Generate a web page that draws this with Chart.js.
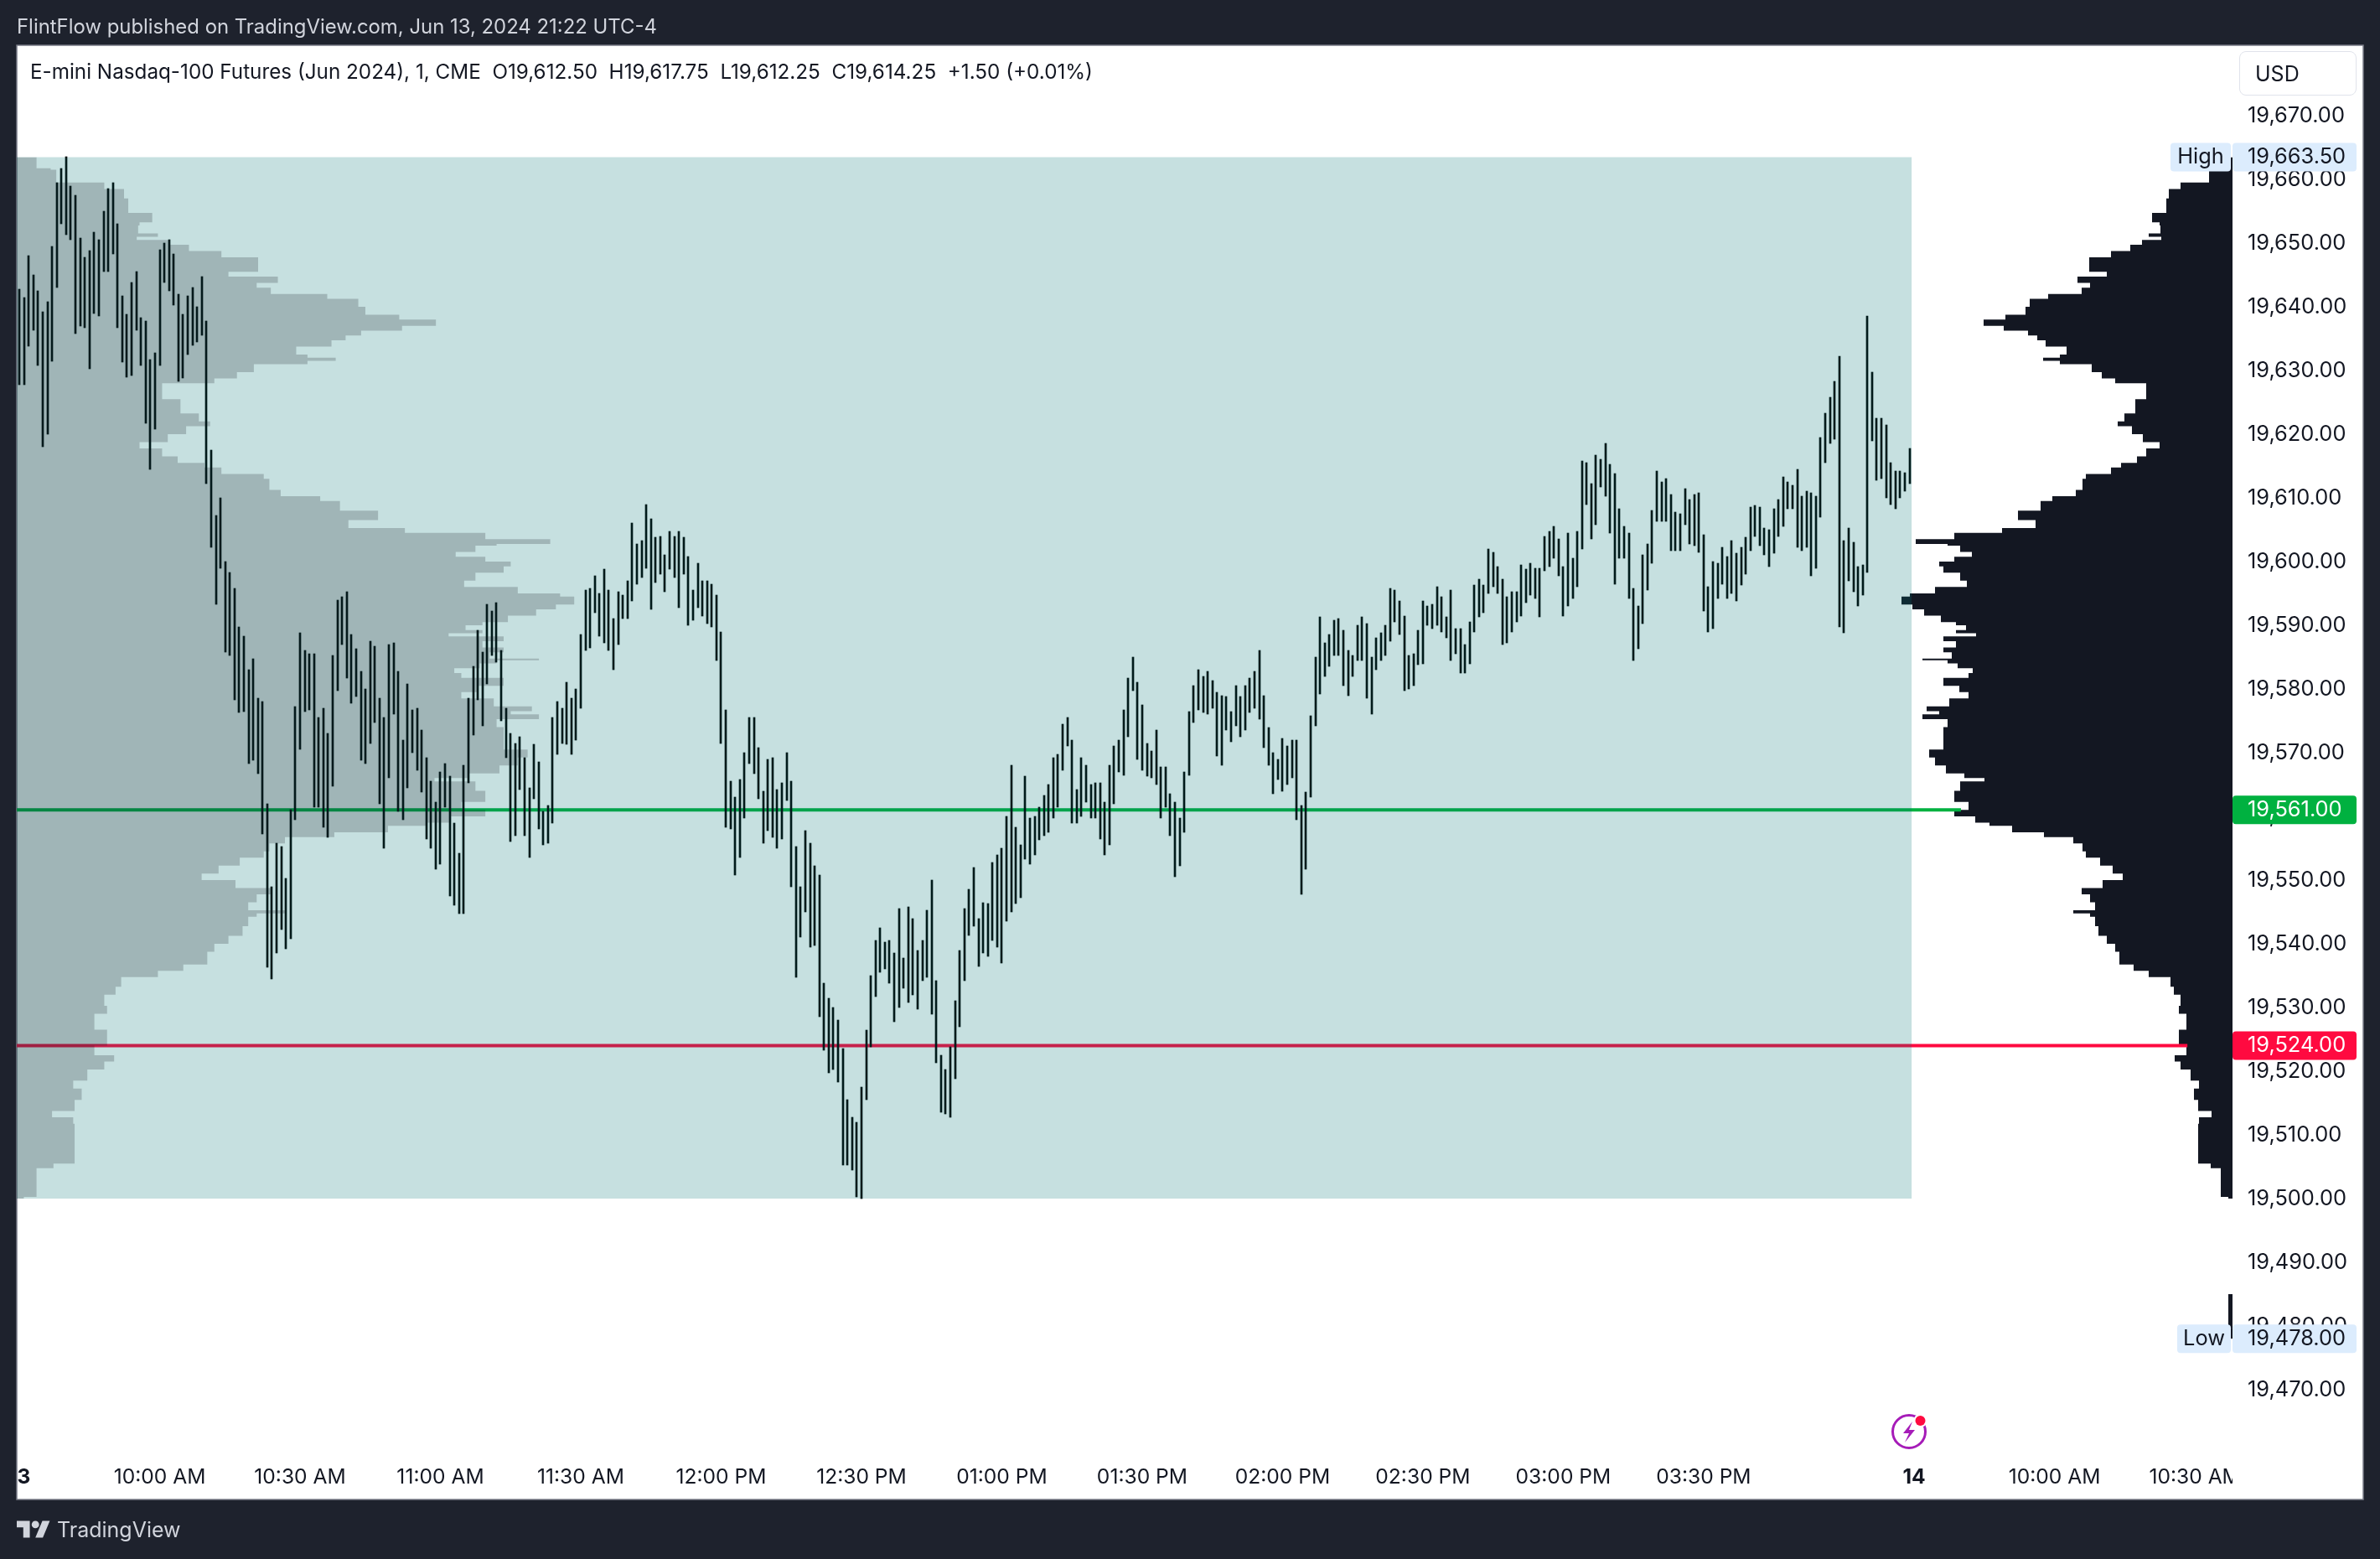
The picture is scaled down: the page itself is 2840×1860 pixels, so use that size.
<!DOCTYPE html>
<html>
<head>
<meta charset="utf-8">
<title>E-mini Nasdaq-100 Futures</title>
<script src="https://cdn.jsdelivr.net/npm/chart.js@4"></script>
<style>
  html, body { margin: 0; padding: 0; background: #1e222d; }
  body { width: 2840px; height: 1860px; position: relative; overflow: hidden; font-family: Inter, "Noto Sans", sans-serif; }
  canvas { position: absolute; left: 0; top: 0; }
  .abs { position: absolute; white-space: pre; line-height: 1; }
  #published { left: 20px; top: 20px; font-size: 23.9px; color: #d1d4dc; }
  #legend { left: 36px; top: 74px; font-size: 24.25px; color: #131722; }
  #currency { left: 2672px; top: 61px; width: 140px; height: 53px; box-sizing: border-box; border: 1px solid #e0e3eb; border-radius: 8px; }
  #currency span { position: absolute; left: 18px; top: 14px; font-size: 25px; line-height: 1; color: #131722; }
  #brand { left: 68px; top: 1813px; font-size: 25px; color: #d1d4dc; }
  #logo { position: absolute; left: 20px; top: 1810px; }
  #bolt { position: absolute; left: 2252px; top: 1684px; }
</style>
</head>
<body>
<canvas id="chart" width="2840" height="1860"></canvas>
<div class="abs" id="published">FlintFlow published on TradingView.com, Jun 13, 2024 21:22 UTC-4</div>
<div class="abs" id="legend">E-mini Nasdaq-100 Futures (Jun 2024), 1, CME  O19,612.50  H19,617.75  L19,612.25  C19,614.25  +1.50 (+0.01%)</div>
<div class="abs" id="currency"><span>USD</span></div>
<svg id="logo" width="40" height="30" viewBox="0 0 36 27" fill="#d1d4dc"><path d="M14 22H7V11H0V4h14v18zM28 22h-8l7.5-18h8L28 22z"/><circle cx="20" cy="8" r="4"/></svg>
<div class="abs" id="brand">TradingView</div>
<svg id="bolt" width="52" height="48" viewBox="0 0 52 48">
  <circle cx="26" cy="24" r="19.5" fill="none" stroke="#a61cb8" stroke-width="3"/>
  <path d="M30 12 L19 26 H26 L21 37 L33 22 H26 Z" fill="#a61cb8"/>
  <circle cx="39.5" cy="11" r="8" fill="#fff"/>
  <circle cx="39.5" cy="11" r="6" fill="#ff0a40"/>
</svg>
<script>
// One minute bars, session starts 09:30, index 0 is the first bar
const barHighs = [
  19642.75,19641.5,19648,19645,19642.5,19639.25,19640.75,19649.5,19659.5,19661.75,
  19663.5,19659,19657.5,19650.75,19647.75,19648.75,19651.75,19650.5,19655,19658.5,
  19659.5,19653,19641.75,19638.75,19643.75,19645.5,19638.25,19637.75,19631.75,19632.75,
  19649,19650,19650.5,19648.25,19642,19638.75,19641.75,19643,19640,19644.75,
  19637.75,19617.5,19607.25,19610,19600,19598.25,19595.75,19589.75,19588.25,19583,
  19584.75,19578.5,19578,19562,19549,19555.75,19555.25,19550.25,19561,19577.25,
  19588.75,19586,19585.5,19585.5,19575.5,19577,19573,19585.25,19594,19594.5,
  19595.25,19588.5,19586.25,19582.75,19580,19587.5,19586.75,19578.5,19575.5,19587,
  19587.25,19582.75,19572,19580.75,19576.75,19577,19573.5,19569.25,19565.5,19562.25,
  19567,19568.25,19566.25,19559,19554.25,19568,19578.5,19583.5,19589.25,19585.75,
  19593.25,19592.25,19593.5,19586,19577,19573,19571.5,19572.5,19569.25,19564.5,
  19571.25,19568.5,19560.75,19561.75,19575.5,19578,19577,19581,19578.5,19580,
  19588.5,19595.5,19595.75,19597.75,19595,19598.75,19595.5,19591,19595.25,19594.75,
  19597,19606,19602.75,19603.25,19609,19606.75,19603.75,19604,19601,19604.75,
  19604,19604.75,19603.75,19600.75,19595.5,19599.75,19597,19597,19596.5,19594.75,
  19589,19576.75,19565.5,19563,19565.75,19570,19575.5,19575.5,19570.75,19564,
  19569,19569.25,19564.25,19565.25,19570,19565.5,19555.25,19549,19557.75,19555.75,
  19552.25,19550.75,19533.75,19531.5,19530,19528,19523.5,19515.5,19512.75,19512,
  19517.5,19526.5,19535,19540.5,19542.5,19540.25,19540.5,19538.5,19545.5,19537.75,
  19545.75,19544,19539,19540.5,19545.25,19550,19534.25,19522.5,19520.25,19523.75,
  19531,19539,19545.5,19548.5,19552,19544,19546.5,19546.25,19552.75,19554,
  19555,19560,19568,19558.25,19555.5,19566.25,19559.75,19560,19561.5,19563.25,
  19565,19569.25,19569.75,19574.5,19575.5,19572,19564.25,19569.25,19568,19565,
  19565.25,19565.25,19562.25,19568,19571,19572,19576.75,19581.75,19585,19581,
  19577.5,19571.5,19570.25,19573.5,19567.75,19567.75,19563.5,19562.25,19559.75,19567,
  19576.5,19580.5,19583,19582,19582.75,19581.25,19579.5,19579,19578.75,19576.5,
  19580.5,19578.75,19580.5,19581.75,19582.75,19586,19579,19574,19570,19569,
  19572.25,19571,19572,19572,19561.75,19563.75,19575.75,19585,19591.25,19587.25,
  19588.5,19590.75,19591,19589.25,19586,19585.25,19590,19591.25,19590.25,19585,
  19588,19588.75,19590,19595.75,19595.5,19593.75,19591.5,19585.25,19585.5,19589.25,
  19593.75,19593,19593.25,19596,19594.5,19591.25,19595.5,19589.5,19589.5,19587,
  19590.5,19596.25,19597.25,19596.25,19602,19601.5,19599.25,19597.25,19594.5,19595.25,
  19595.25,19599.5,19598.75,19599.75,19599,19599,19604,19604.75,19605.5,19603.5,
  19599.25,19604.5,19600.5,19604.75,19615.75,19615.5,19612.25,19616.75,19616,19618.5,
  19615.25,19613.75,19608.25,19605.5,19604.5,19595.75,19593,19601,19602.75,19608,
  19614.25,19612.5,19613,19610.5,19607.75,19607.5,19611.5,19609.75,19610.5,19610.75,
  19604.25,19596,19600,19599.75,19602.25,19600.75,19603.25,19601.25,19602.25,19603.75,
  19608.5,19608.75,19608.5,19605.25,19605,19608.25,19609.75,19613.25,19612.5,19612,
  19614.5,19610.25,19611,19610.75,19610.25,19619.5,19623.25,19625.75,19628.25,19632.25,
  19603.25,19605.25,19603,19599.25,19599.5,19638.5,19629.75,19622.5,19622.5,19621.5,
  19615.5,19614.25,19614.25,19614,19617.75
];
const barLows = [
  19627.75,19627.75,19633.75,19636.25,19630.75,19618,19620,19631.5,19643,19653,
  19651.25,19650.5,19635.75,19637,19636.75,19630.25,19639,19638.5,19645.5,19645.5,
  19648.25,19636.75,19631.25,19629,19629.25,19636.25,19630.75,19621.75,19614.5,19620.75,
  19630.75,19643.75,19642.5,19640.25,19628.25,19628.75,19632.5,19634,19634.5,19635.5,
  19612.25,19602.25,19593.25,19599,19585.75,19585.25,19578.25,19576.25,19576.5,19568.25,
  19568.75,19566.75,19557.25,19536.25,19534.5,19538.5,19542.25,19539.25,19540.75,19559.5,
  19570.5,19576.5,19576.75,19561.5,19561.5,19558.25,19556.75,19564.75,19579.75,19587,
  19581.75,19577.75,19578.75,19568.75,19568.25,19571.5,19574.75,19562,19555,19566,
  19576,19560.75,19559.5,19564.5,19570,19567.25,19563.75,19556.5,19555,19551.75,
  19552.5,19561.5,19547.5,19546,19544.75,19544.75,19565.25,19572.75,19578.25,19574.25,
  19580.75,19585.25,19584.25,19575,19569.25,19556,19557,19564.25,19557,19553.5,
  19562.75,19558,19555.5,19555.75,19559,19569.75,19571.5,19571.25,19569.75,19572,
  19577,19586,19586.5,19592,19588.25,19587.25,19586,19583,19587,19591,
  19591,19593.75,19596.5,19597.5,19599,19592.5,19596.75,19598,19595.25,19598.75,
  19597.5,19592.75,19598,19590,19590.75,19592.75,19591.5,19590.25,19589.75,19584.5,
  19571.5,19558.25,19558,19550.75,19553.5,19559.75,19568.25,19566.75,19562.75,19555.75,
  19557.75,19556.75,19555,19556.5,19562.5,19549,19534.75,19541,19545,19539.5,
  19539.75,19528.5,19523.25,19519.75,19520.25,19518.25,19505.25,19505.25,19504.5,19500.25,
  19500,19515.5,19523.75,19531.75,19535.5,19536,19533.75,19527.75,19530,19533,
  19530.75,19532,19529.75,19534.25,19534.75,19529,19521.25,19513.5,19513.25,19512.75,
  19518.75,19527,19534.25,19541.25,19542.75,19536.5,19538.5,19538,19540.5,19539.5,
  19537,19543.5,19545,19546.25,19547.25,19553.25,19552.5,19554,19556.25,19557,
  19557.5,19559.75,19561.5,19567.25,19571,19559,19559,19560,19562.25,19559.75,
  19559.75,19556.5,19554,19555.5,19562,19567,19566.5,19572.5,19579.75,19569,
  19567.25,19566.25,19566,19565,19559.75,19561.5,19557,19550.5,19552.25,19557.5,
  19566.5,19574.75,19576.75,19576.25,19576,19577,19569.5,19568,19573.5,19571.75,
  19574.25,19572.5,19573.5,19576.25,19577,19575.25,19570.75,19568,19563.5,19565.75,
  19564,19565,19566,19559.5,19547.75,19551.75,19563,19574.25,19579.25,19582,
  19583.5,19585.25,19585.25,19580.5,19579,19582,19584.5,19584.5,19578.5,19576,
  19583,19584.5,19585.25,19587.5,19590.5,19588.5,19579.75,19580,19580.5,19583.75,
  19584,19590,19589.5,19590,19589,19588,19584.5,19585.5,19582.5,19582.5,
  19584,19589,19591.25,19592,19595,19596,19595,19587,19587.25,19589,
  19590.5,19591.5,19593.5,19594.75,19594.25,19591.25,19598.5,19599.25,19600.5,19597.75,
  19591.5,19593,19594.25,19596,19602,19609,19603.5,19605.75,19611.75,19610.25,
  19604.5,19596.5,19600.5,19600.5,19594.25,19584.5,19586.25,19590.25,19595.5,19599.75,
  19606.25,19606.25,19606.25,19601.75,19601.75,19601.75,19605.75,19602.75,19602.5,19601.5,
  19592.25,19589,19589.5,19594.25,19596.5,19594.25,19595,19593.75,19596.25,19598,
  19601.75,19604,19602.5,19601,19599.25,19601.25,19604,19605.5,19608.25,19608.25,
  19602.25,19601.75,19602.25,19597.75,19599,19607,19615.5,19618.5,19619.25,19589.75,
  19588.75,19597,19595.25,19593,19594.75,19598.25,19619,19612.75,19613,19610,
  19609,19608.25,19610,19611,19612.25
];

// Volume profile, each volume holds from the price before it down to its own price
const profilePrices = [
  19663.5,19661.75,19661.5,19659.5,19658.5,19657,19654.75,19653.25,19652.75,19651.5,19651,19650.5,
  19649.75,19648.75,19647.75,19645.5,19644.75,19643.75,19643,19642,19641.25,19640,
  19638.75,19638,19637,19636.25,19635.5,19634.75,19633.75,19632.5,19632,19631.5,
  19631,19629.75,19628.75,19628,19625.5,19623.25,19622,19621.25,19620,19618.75,
  19617.75,19616.5,19615.5,19614.75,19613.75,19613,19611.25,19610.25,19609.5,19608,
  19606.5,19605.25,19604.5,19603.5,19602.75,19602.5,19601.5,19600.75,19600,19599.25,
  19598.25,19597,19596,19595,19594.5,19593.25,19592.5,19591.5,19590.5,19590,
  19589.25,19588.75,19588.25,19587.5,19586.5,19585.75,19584.75,19584.5,19584,19583.25,
  19582.5,19581.75,19580.5,19579.5,19578.5,19577.25,19576.5,19576,19575.25,19574,
  19573,19571.5,19570.5,19569.25,19568,19566.75,19566,19565.5,19564,19562.25,
  19561,19560,19559,19558.5,19557.5,19556.75,19555.75,19554.5,19553.5,19552.25,
  19551,19550,19548.75,19547.75,19546.5,19545.25,19544.75,19544.25,19542.75,19541.25,
  19540,19538.75,19536.75,19535.75,19534.75,19533.25,19532,19530.25,19529,19526.5,
  19524,19522.5,19521.5,19520.25,19518.5,19517.25,19515.5,19513.75,19512.75,19511.75,
  19505.5,19504.75,19500.25,19500
];
const profileVolume = [
  14,14,24,28,62,76,79,96,87,86,100,85,
  108,122,145,171,150,185,170,180,220,242,
  247,271,297,273,244,233,223,198,206,226,
  206,168,156,140,103,116,129,137,120,107,
  87,103,114,133,145,175,179,187,215,229,
  256,235,275,332,378,340,325,311,332,350,
  345,325,317,355,385,395,382,368,348,330,
  318,330,306,345,330,345,335,370,340,328,
  310,315,345,326,315,338,365,350,370,340,
  345,345,345,362,355,342,320,296,325,332,
  315,332,307,290,263,225,190,179,175,158,
  143,131,155,180,170,164,190,170,164,160,
  150,140,135,118,100,74,70,62,64,55,
  64,55,69,62,50,40,46,41,25,40,
  41,26,14,5
];
// Small separate piece of the profile under the main one
const tailPrices = [19500, 19485, 19478];
const tailVolume = [0, 0, 5];

const priceTicks = [19670,19660,19650,19640,19630,19620,19610,19600,19590,19580,19570,19560,19550,
  19540,19530,19520,19510,19500,19490,19480,19470];
const timeTickIndexes = [0,30,60,90,120,150,180,210,240,270,300,330,360,405,435,465];
const timeTickLabels = ['13','10:00 AM','10:30 AM','11:00 AM','11:30 AM','12:00 PM','12:30 PM','01:00 PM',
  '01:30 PM','02:00 PM','02:30 PM','03:00 PM','03:30 PM','14','10:00 AM','10:30 AM'];
const sessionLabels = ['13', '14'];

const rangeHigh = 19663.5;
const rangeLow = 19500;
const rangeLastBar = 404.5;
const pocPrice = 19561;
const pocEndBar = 415;
const lowVolPrice = 19524;
const lowVolEndBar = 463.4;
const sessionLow = 19478;

const fontFamily = 'Inter, "Noto Sans", sans-serif';

function toPoints(volumes, prices) {
  return volumes.map((v, i) => ({ x: v, y: prices[i] }));
}

function priceText(v) {
  return v.toLocaleString('en-US', { minimumFractionDigits: 2, maximumFractionDigits: 2 });
}

// Rounded pill on the price scale
function pill(ctx, left, top, right, bottom, color) {
  ctx.fillStyle = color;
  ctx.beginPath();
  ctx.roundRect(left, top, right - left, bottom - top, 4);
  ctx.fill();
}

const framePlugin = {
  id: 'frame',
  beforeDraw(chart) {
    const ctx = chart.ctx;
    ctx.save();
    ctx.fillStyle = '#fff';
    ctx.fillRect(20, 54, 2800, 1735);
    ctx.strokeStyle = '#787b86';
    ctx.lineWidth = 1.5;
    ctx.strokeRect(20, 54, 2800, 1735);
    ctx.restore();

    // time labels stop at the price scale, like the original
    const xScale = chart.scales.x;
    if (!xScale.clipped) {
      const drawLabels = xScale.drawLabels.bind(xScale);
      xScale.drawLabels = function (area) {
        ctx.save();
        ctx.beginPath();
        ctx.rect(chart.chartArea.left, chart.chartArea.bottom, chart.chartArea.width, 60);
        ctx.clip();
        drawLabels(area);
        ctx.restore();
      };
      xScale.clipped = true;
    }
  },
  // Bars sit on whole pixels so they stay sharp
  afterDatasetsUpdate(chart) {
    chart.getDatasetMeta(chart.data.datasets.findIndex(d => d.label === 'bars')).data.forEach(bar => {
      bar.x = Math.round(bar.x);
      bar.y = Math.round(bar.y);
      bar.base = Math.round(bar.base);
    });
  },
  afterDraw(chart) {
    const ctx = chart.ctx;
    const y = chart.scales.y;
    const left = chart.chartArea.right;
    const textX = left + 18;
    ctx.save();
    ctx.font = '25.4px ' + fontFamily;
    ctx.textBaseline = 'middle';

    const tags = [
      { value: rangeHigh, color: '#dcecfd', text: '#131722', name: 'High', nameLeft: 2590 },
      { value: sessionLow, color: '#dcecfd', text: '#131722', name: 'Low', nameLeft: 2598 },
      { value: pocPrice, color: '#00b140', text: '#fff' },
      { value: lowVolPrice, color: '#ff0a40', text: '#fff' }
    ];
    tags.forEach(tag => {
      const py = y.getPixelForValue(tag.value);
      pill(ctx, left, py - 17, 2812, py + 17, tag.color);
      ctx.fillStyle = tag.text;
      ctx.textAlign = 'left';
      ctx.fillText(priceText(tag.value), textX, py);
      if (tag.name) {
        pill(ctx, tag.nameLeft, py - 17, left - 2, py + 17, tag.color);
        ctx.fillStyle = tag.text;
        ctx.textAlign = 'center';
        ctx.fillText(tag.name, (tag.nameLeft + left - 2) / 2, py);
      }
    });
    ctx.restore();
  }
};

new Chart(document.getElementById('chart'), {
  type: 'bar',
  data: {
    datasets: [
      {
        // grey profile over the range, same volumes as the black one
        type: 'line',
        label: 'profile left',
        indexAxis: 'y',
        order: 1,
        xAxisID: 'volLeft',
        yAxisID: 'y',
        data: toPoints(profileVolume, profilePrices),
        stepped: true,
        fill: 'origin',
        backgroundColor: 'rgba(19,23,34,0.21)',
        borderWidth: 0,
        pointRadius: 0
      },
      {
        type: 'line',
        label: 'range',
        order: 2,
        data: [{ x: -1, y: rangeHigh }, { x: rangeLastBar, y: rangeHigh }],
        fill: { value: rangeLow },
        backgroundColor: 'rgba(0,116,116,0.2235)',
        borderWidth: 0,
        pointRadius: 0
      },
      {
        label: 'bars',
        order: 3,
        data: barHighs.map((h, i) => ({ x: i, y: [barLows[i], h] })),
        backgroundColor: '#000',
        barThickness: 2,
        grouped: false
      },
      {
        type: 'line',
        label: 'poc',
        order: 4,
        data: [{ x: -1, y: pocPrice }, { x: pocEndBar, y: pocPrice }],
        borderColor: '#00b140',
        borderWidth: 4,
        pointRadius: 0
      },
      {
        type: 'line',
        label: 'low volume',
        order: 4,
        data: [{ x: -1, y: lowVolPrice }, { x: lowVolEndBar, y: lowVolPrice }],
        borderColor: '#ff0a40',
        borderWidth: 4,
        pointRadius: 0
      },
      {
        type: 'line',
        label: 'profile right',
        indexAxis: 'y',
        order: 5,
        xAxisID: 'volRight',
        yAxisID: 'y',
        data: toPoints(profileVolume, profilePrices),
        stepped: true,
        fill: 'origin',
        backgroundColor: '#131722',
        borderWidth: 0,
        pointRadius: 0
      },
      {
        type: 'line',
        label: 'profile tail',
        indexAxis: 'y',
        order: 5,
        xAxisID: 'volRight',
        yAxisID: 'y',
        data: toPoints(tailVolume, tailPrices),
        stepped: true,
        fill: 'origin',
        backgroundColor: '#131722',
        borderWidth: 0,
        pointRadius: 0
      }
    ]
  },
  options: {
    responsive: false,
    animation: false,
    events: [],
    layout: { padding: { left: 20, top: 54, right: 20, bottom: 71 } },
    plugins: { legend: { display: false }, tooltip: { enabled: false }, title: { display: false } },
    scales: {
      x: {
        type: 'linear',
        offset: false,
        min: -0.54,
        max: 473.04,
        grid: { display: false, drawTicks: false },
        border: { display: false },
        afterBuildTicks(axis) {
          axis.ticks = timeTickIndexes.map(v => ({ value: v }));
        },
        afterFit(axis) {
          axis.height = 52;
          axis.paddingLeft = 0;
          axis.paddingRight = 0;
        },
        ticks: {
          autoSkip: false,
          maxRotation: 0,
          padding: 11,
          color: '#131722',
          font(c) {
            const bold = c.tick && sessionLabels.includes(timeTickLabels[timeTickIndexes.indexOf(c.tick.value)]);
            return { family: fontFamily, size: 24.6, weight: bold ? 'bold' : 'normal' };
          },
          callback(value, index) {
            return timeTickLabels[index];
          }
        }
      },
      y: {
        type: 'linear',
        position: 'right',
        min: 19459.6,
        max: 19681.05,
        grid: { display: false, drawTicks: false },
        border: { display: false },
        afterBuildTicks(axis) {
          axis.ticks = priceTicks.map(v => ({ value: v }));
        },
        afterFit(axis) {
          axis.width = 156;
          axis.paddingTop = 0;
          axis.paddingBottom = 0;
        },
        ticks: {
          autoSkip: false,
          padding: 18,
          color: '#131722',
          font: { family: fontFamily, size: 25.4 },
          callback(value) {
            return priceText(value);
          }
        }
      },
      volLeft: { axis: 'x', type: 'linear', display: false, offset: false, min: 0, max: 1570 },
      volRight: { axis: 'x', type: 'linear', display: false, offset: false, reverse: true, min: 0, max: 2644 }
    }
  },
  plugins: [framePlugin]
});
</script>
</body>
</html>
